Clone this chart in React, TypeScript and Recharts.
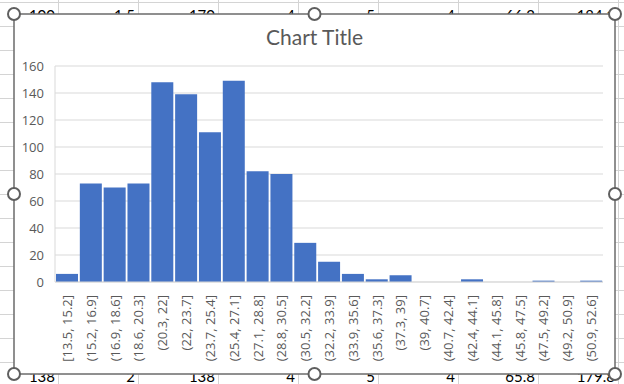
import { BarChart, Bar, XAxis, YAxis, CartesianGrid } from "recharts";

// histogram bins and counts
const bins = [
  "[13.5, 15.2]", "(15.2, 16.9]", "(16.9, 18.6]", "(18.6, 20.3]", "(20.3, 22]",
  "(22, 23.7]", "(23.7, 25.4]", "(25.4, 27.1]", "(27.1, 28.8]", "(28.8, 30.5]",
  "(30.5, 32.2]", "(32.2, 33.9]", "(33.9, 35.6]", "(35.6, 37.3]", "(37.3, 39]",
  "(39, 40.7]", "(40.7, 42.4]", "(42.4, 44.1]", "(44.1, 45.8]", "(45.8, 47.5]",
  "(47.5, 49.2]", "(49.2, 50.9]", "(50.9, 52.6]",
];
const counts = [6, 73, 70, 73, 148, 139, 111, 149, 82, 80, 29, 15, 6, 2, 5, 0, 0, 2, 0, 0, 1, 0, 1];
const yTicks = [0, 20, 40, 60, 80, 100, 120, 140, 160];

// spreadsheet cells peeking out around the chart
const topRow = ["100", "1.5", "170", "4", "5", "4", "66.2", "184.1"];
const bottomRow = ["138", "2", "138", "4", "5", "4", "65.8", "179.8"];

const FONT = "Lato, 'Open Sans', sans-serif";
const TICK_FONT = "'Open Sans', sans-serif";
const GREY = "#595959";

const data = bins.map((bin, i) => ({ bin, count: counts[i] ?? 0 }));

function BinTick({ x, y, payload }: any) {
  return (
    <text
      transform={`translate(${x},${y + 13}) rotate(-90)`}
      textAnchor="end"
      dominantBaseline="central"
      fill={GREY}
      fontSize={13}
      fontFamily={TICK_FONT}
    >
      {payload.value}
    </text>
  );
}

function Sheet() {
  const colLines = [58, 138, 218, 298, 378, 458, 538, 618];
  const rowLines = Array.from({ length: 17 }, (_, i) => 2 + i * 24);
  return (
    <svg width={624} height={384} style={{ position: "absolute", left: 0, top: 0 }}>
      {colLines.map((x) => (
        <line key={"c" + x} x1={x + 0.5} x2={x + 0.5} y1={0} y2={384} stroke="#d4d4d4" />
      ))}
      {rowLines.map((y) => (
        <line key={"r" + y} x1={0} x2={624} y1={y + 0.5} y2={y + 0.5} stroke="#d4d4d4" />
      ))}
      {topRow.map((t, i) => (
        <text key={"t" + i} x={colLines[i] - 3} y={21} textAnchor="end" fontSize={15} fontFamily={FONT} fill="#000">
          {t}
        </text>
      ))}
      {bottomRow.map((t, i) => (
        <text key={"b" + i} x={colLines[i] - 3} y={382} textAnchor="end" fontSize={15} fontFamily={FONT} fill="#000">
          {t}
        </text>
      ))}
    </svg>
  );
}

function Frame() {
  const handles = [
    [14, 14], [314.5, 14], [615, 14],
    [14, 194], [615, 194],
    [14, 374], [314.5, 374], [615, 374],
  ];
  return (
    <svg width={624} height={384} style={{ position: "absolute", left: 0, top: 0, pointerEvents: "none" }}>
      <rect x={14} y={14} width={601} height={360} fill="none" stroke="#6b6b6b" strokeWidth={1.5} />
      {handles.map(([cx, cy], i) => (
        <circle key={i} cx={cx} cy={cy} r={6} fill="#fff" stroke="#5f5f5f" strokeWidth={2} />
      ))}
    </svg>
  );
}

export default function App() {
  return (
    <div style={{ position: "absolute", left: 0, top: 0, width: 624, height: 384, overflow: "hidden", background: "#fff" }}>
      <Sheet />
      <div style={{ position: "absolute", left: 14, top: 14, width: 601, height: 360, background: "#fff" }} />
      <div
        style={{
          position: "absolute",
          left: 14,
          top: 25,
          width: 601,
          textAlign: "center",
          fontFamily: FONT,
          fontSize: 21,
          color: GREY,
          lineHeight: "24px",
        }}
      >
        Chart Title
      </div>
      <div style={{ position: "absolute", left: 15, top: 15 }}>
        <BarChart
          width={600}
          height={358}
          data={data}
          margin={{ top: 51, right: 12, left: 0, bottom: 0 }}
          barCategoryGap={1}
        >
          <CartesianGrid vertical={false} stroke="#d9d9d9" />
          <XAxis
            dataKey="bin"
            interval={0}
            height={91}
            tickLine={false}
            tickSize={0}
            tickMargin={0}
            axisLine={{ stroke: "#d9d9d9" }}
            tick={<BinTick />}
          />
          <YAxis
            width={40}
            domain={[0, 160]}
            ticks={yTicks}
            tickLine={false}
            tickMargin={5}
            axisLine={{ stroke: "#d9d9d9" }}
            tick={{ fill: GREY, fontSize: 13, fontFamily: TICK_FONT }}
          />
          <Bar dataKey="count" fill="#4472c4" isAnimationActive={false} />
        </BarChart>
      </div>
      <Frame />
    </div>
  );
}
